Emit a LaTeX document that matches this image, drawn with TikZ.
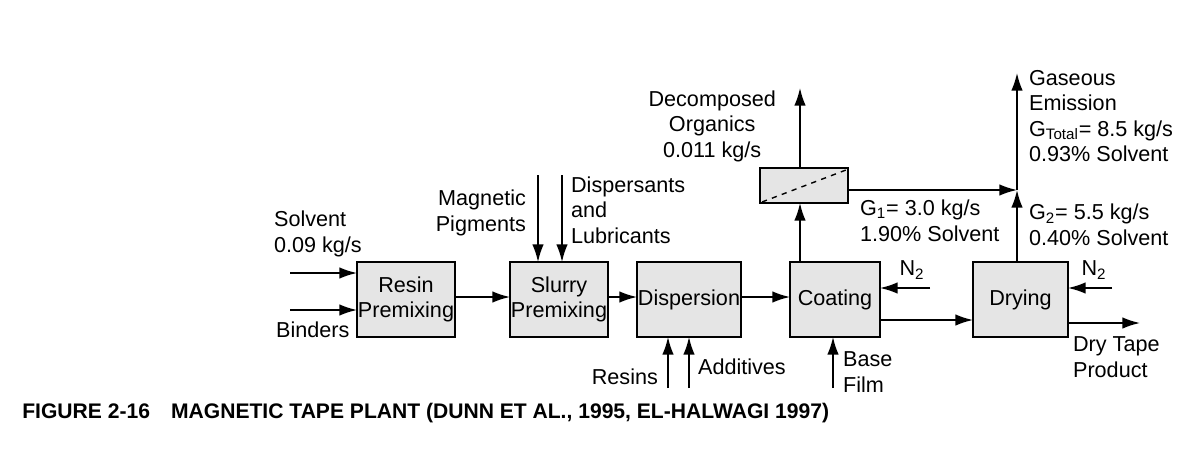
\documentclass[tikz,border=0pt]{standalone}
\usepackage{fontspec}
\setmainfont{Liberation Sans}
\usetikzlibrary{arrows.meta}
\begin{document}
\begin{tikzpicture}[x=0.02cm,y=-0.02cm,
  box/.style={draw,fill=gray!20,line width=0.8pt},
  fl/.style={-{Latex[length=10pt,width=6.5pt]},line width=0.9pt},
  lab/.style={font=\fontsize{12.3}{14.5}\selectfont,align=left,inner sep=1pt}]
\useasboundingbox (0,0) rectangle (1198,470);
\draw[box] (357,262) rectangle node[lab,align=center] (resin) {Resin\\Premixing} (455,337);
\draw[box] (510,262) rectangle node[lab,align=center] (slurry) {Slurry\\Premixing} (608,337);
\draw[box] (637,262) rectangle node[lab] (disp) {Dispersion} (741,337);
\draw[box] (790,262) rectangle node[lab] (coat) {Coating} (880,337);
\draw[box] (973,262) rectangle node[lab] (dry) {Drying} (1068,337);
\draw[box] (760,168) rectangle (848,203);
\draw[dashed,line width=0.8pt] (762,202) -- (846,170);
\coordinate (sepB) at (800,203); \coordinate (sepT) at (800,168); \coordinate (sepR) at (848,190);
\draw[fl] (290,273) -- (357,273);
\draw[fl] (290,310) -- (357,310);
\node[lab,anchor=south west] (solv) at (272,259) {Solvent\\0.09 kg/s};
\node[lab,anchor=north west] (bind) at (274,320) {Binders};
\draw[fl] (455,297) -- (510,297);
\draw[fl] (608,297) -- (637,297);
\draw[fl] (741,297) -- (790,297);
\draw[fl] (880,320) -- (973,320);
\draw[fl] (538,175) -- (538,262);
\draw[fl] (562,175) -- (562,262);
\node[lab,anchor=east,align=right] (mag) at (528,213) {Magnetic\\Pigments};
\node[lab,anchor=west] (dl) at (569,210) {Dispersants\\and\\Lubricants};
\draw[fl] (668,388) -- (668,337);
\draw[fl] (689,388) -- (689,337);
\node[lab,anchor=east] (res) at (660,377) {Resins};
\node[lab,anchor=west] (add) at (696,367) {Additives};
\draw[fl] (833,388) -- (833,337);
\node[lab,anchor=west] (bf) at (841,372) {Base\\Film};
\draw[fl] (930,288) -- (880,288);
\node[lab] (n1) at (912,270) {N\textsubscript{2}};
\draw[fl] (1112,288) -- (1068,288);
\node[lab] (n2) at (1094,270) {N\textsubscript{2}};
\draw[fl] (1068,323) -- (1140,323);
\node[lab,anchor=north west] (dt) at (1071,335) {Dry Tape\\Product};
\draw[fl] (800,262) -- (sepB);
\draw[fl] (sepT) -- (800,88);
\node[lab,anchor=east,align=center] (dec) at (778,126) {Decomposed\\Organics\\0.011 kg/s};
\draw[fl] (sepR) -- (1017,190);
\node[lab,anchor=north west] (g1) at (858,198) {G\textsubscript{1}= 3.0 kg/s\\1.90\% Solvent};
\draw[fl] (1017,262) -- (1017,190);
\draw[fl] (1017,190) -- (1017,73);
\node[lab,anchor=north west] (g2) at (1027,202) {G\textsubscript{2}= 5.5 kg/s\\0.40\% Solvent};
\node[lab,anchor=north west] (ge) at (1027,68) {Gaseous\\Emission\\G\textsubscript{Total}= 8.5 kg/s\\0.93\% Solvent};
\node[anchor=west,font=\bfseries\fontsize{12}{14}\selectfont,inner sep=0] (cap) at (22,413) {FIGURE 2-16\quad MAGNETIC TAPE PLANT (DUNN ET AL., 1995, EL-HALWAGI 1997)};
\end{tikzpicture}
\end{document}
